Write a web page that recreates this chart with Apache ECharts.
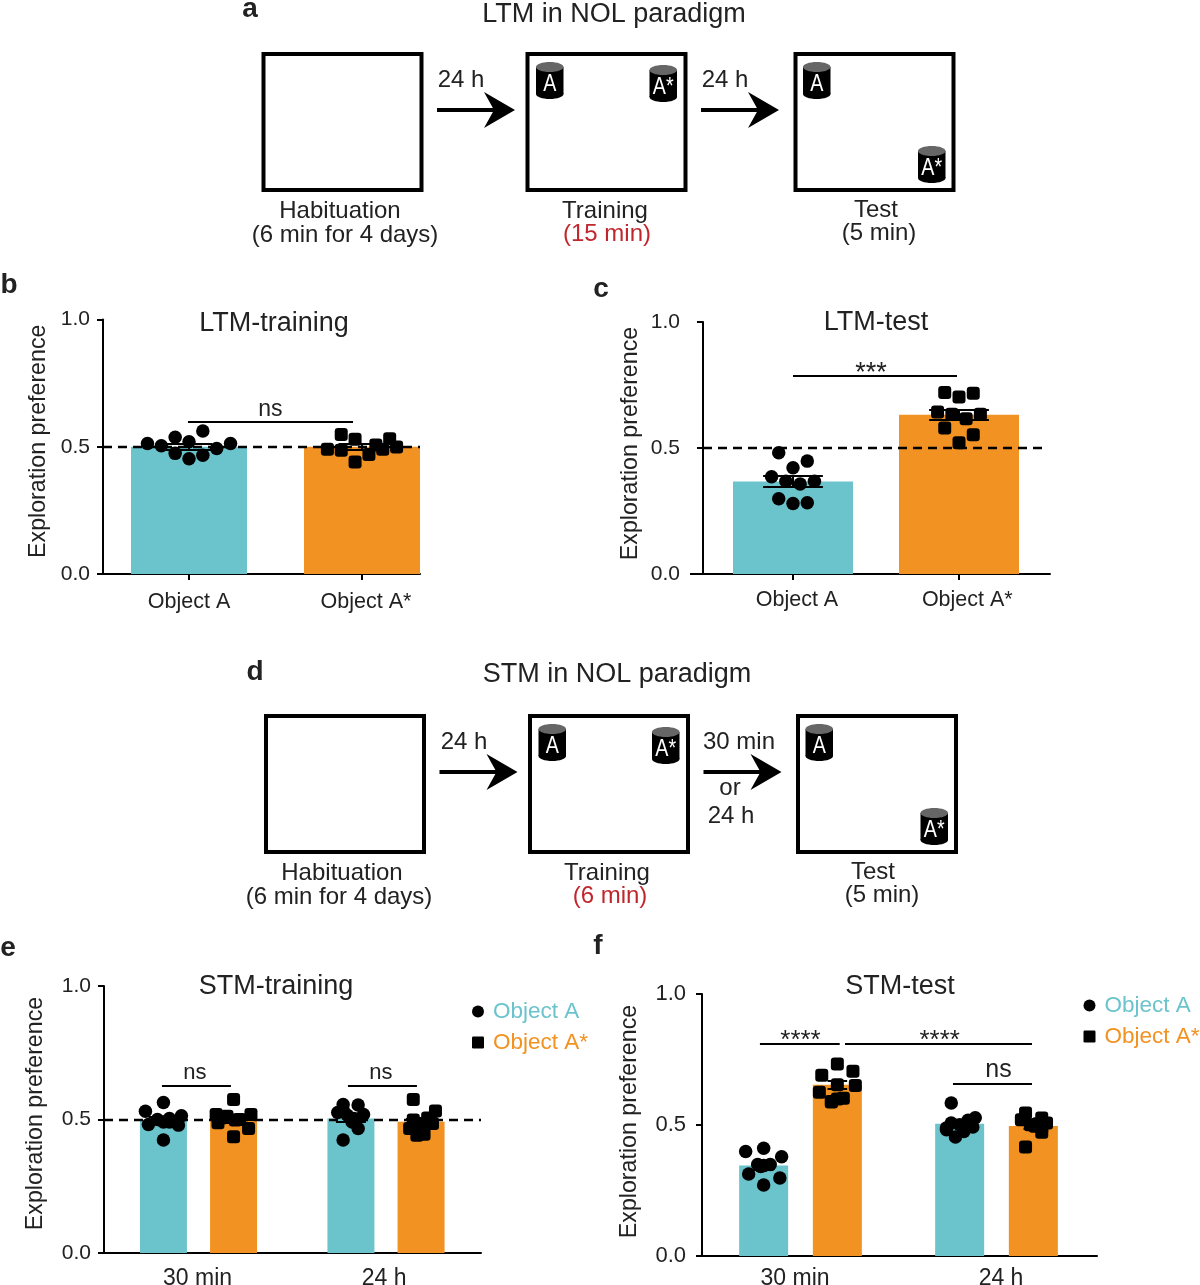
<!DOCTYPE html>
<html>
<head>
<meta charset="utf-8">
<style>html,body{margin:0;padding:0;background:#fff}#c{width:1200px;height:1285px}</style>
<script src="https://cdn.jsdelivr.net/npm/echarts@6/dist/echarts.min.js"></script>
</head>
<body>
<div id="c"></div>
<script>
// ---- data: [swarm column, exploration preference]
var yTicksLabel = 'Exploration preference';
var objectNames = ['Object A', 'Object A*'];
var delayNames = ['30 min', '24 h'];

var ltmTrainingA = [[-3,.513],[-2,.504],[-1,.537],[-1,.474],[0,.520],[0,.453],[1,.562],[1,.467],[2,.493],[3,.513]];
var ltmTrainingB = [[-2.5,.49],[-1.5,.548],[-1.5,.486],[-.5,.529],[-.5,.44],[.5,.47],[1,.507],[1.5,.49],[2,.531],[2.5,.499]];
var ltmTestA = [[-1,.481],[1,.448],[0,.422],[-1.5,.386],[-.5,.368],[.5,.357],[1.5,.368],[-1,.299],[0,.280],[1,.283]];
var ltmTestB = [[-1,.72],[0,.702],[1,.717],[-1.5,.643],[-.5,.634],[.5,.616],[1.5,.634],[-1,.579],[1,.553],[0,.521]];

var stmTraining30A = [[0,.564],[-3,.531],[-1,.5],[-2.5,.481],[0,.491],[1,.491],[3,.514],[2.5,.479],[0,.423],[1,.504]];
var stmTraining30B = [[0,.575],[-2.9,.519],[-2.6,.488],[-1.1,.512],[.3,.498],[1,.5],[2.9,.519],[2.5,.466],[0,.435],[-1.9,.507]];
var stmTraining24A = [[-1.3,.556],[1.2,.554],[-2.2,.526],[2.1,.519],[-.6,.516],[.5,.504],[-1.3,.535],[1.2,.466],[-1.3,.423],[.2,.491]];
var stmTraining24B = [[-1.3,.575],[2.4,.532],[1.1,.506],[-1.3,.498],[1.9,.485],[-1.9,.466],[.1,.485],[-.7,.441],[.5,.445],[.1,.473]];

var stmTest30A = [[-3,.399],[0,.411],[3,.379],[-1,.349],[0,.345],[1.1,.349],[-2.5,.313],[2.7,.298],[0,.271],[-.5,.342]];
var stmTest30B = [[0,.733],[-2.6,.69],[2.6,.705],[0,.654],[3,.651],[-3,.625],[1,.602],[-1,.59],[0,.599],[-1,.588]];
var stmTest24A = [[-1.4,.584],[2.6,.528],[1.4,.518],[-1.4,.508],[0,.501],[-2.2,.482],[2.2,.492],[.7,.475],[-.7,.454],[-2.2,.489]];
var stmTest24B = [[-1.3,.546],[-2,.52],[1.4,.527],[2.2,.508],[-.5,.501],[1.4,.489],[.3,.495],[-1.3,.416],[1.4,.472],[.8,.505]];

var ltmTrainingMeans = [.5, .5],  ltmTrainingSem = [.01, .01];
var ltmTestMeans = [.367, .632],  ltmTestSem = [.022, .021];
var stmTrainingMeans = [.497, .498, .504, .492], stmTrainingSem = [.012, .012, .012, .012];
var stmTestMeans = [.345, .654, .505, .496],     stmTestSem = [.014, .014, .01, .011];

// ---- layout, separate from the values
var TEAL = '#6BC3CC', ORANGE = '#F29222', INK = '#222', RED = '#C0272D';
var FONT = '"Liberation Sans", Arial, sans-serif';

var panels = [
 {left:103,right:420,top:319.5,bottom:574,c0:189,unit:173,groups:1,barW:116,sub:0,step:.08,cap:.135,tick:true,
  means:ltmTrainingMeans,sem:ltmTrainingSem,dots:[ltmTrainingA,ltmTrainingB],
  names:objectNames,labelAt:[0,1.023],labelMargin:17,yMargin:13,yFont:21,nameGap:53,namePad:11,
  dashEnd:420,brackets:[{a:-.006,b:.948,y:.599,t:'ns',x:.47,ty:.645,f:23}]},
 {left:703,right:1050,top:322,bottom:574,c0:793,unit:166,groups:1,barW:120,sub:0,step:.086,cap:.18,tick:true,
  means:ltmTestMeans,sem:ltmTestSem,dots:[ltmTestA,ltmTestB],
  names:objectNames,labelAt:[.024,1.05],labelMargin:15,yMargin:23,yFont:21,nameGap:61,namePad:9,
  dashEnd:1047,brackets:[{a:0,b:.988,y:.786,t:'***',x:.47,ty:.795,f:27}]},
 {left:104,right:481,top:986,bottom:1253,c0:198.5,unit:187.5,groups:2,barW:47,sub:.187,step:.032,cap:.08,tick:false,
  means:stmTrainingMeans,sem:stmTrainingSem,dots:[stmTraining30A,stmTraining30B,stmTraining24A,stmTraining24B],
  names:delayNames,labelAt:[-.005,.99],labelMargin:14,yMargin:13,yFont:21,nameGap:57,namePad:12,
  dashEnd:481,brackets:[{a:-.195,b:.173,y:.625,t:'ns',x:-.019,ty:.674,f:22},{a:.797,b:1.165,y:.625,t:'ns',x:.973,ty:.674,f:22}]},
 {left:702,right:1097,top:994,bottom:1256,c0:800.5,unit:196,groups:2,barW:49,sub:.188,step:.0306,cap:.05,tick:false,
  means:stmTestMeans,sem:stmTestSem,dots:[stmTest30A,stmTest30B,stmTest24A,stmTest24B],
  names:delayNames,labelAt:[-.028,1.023],labelMargin:11,yMargin:16,yFont:22,nameGap:61,namePad:7,
  dashEnd:1100,brackets:[{a:-.207,b:.2,y:.809,t:'****',x:0,ty:.82,f:26},{a:.227,b:1.181,y:.809,t:'****',x:.71,ty:.82,f:26},{a:.778,b:1.181,y:.656,t:'ns',x:1.010,ty:.71,f:25}]}
];

var grids=[],xAxes=[],yAxes=[],series=[];
panels.forEach(function(p,i){
  var xMin=(p.left-p.c0)/p.unit, xMax=(p.right-p.c0)/p.unit;
  var nBars=p.means.length, perGroup=nBars/p.names.length;
  var barX=p.means.map(function(_,k){
    var g=Math.floor(k/perGroup), s=k%perGroup;
    return perGroup===2 ? g+(s===0?-p.sub:p.sub) : g;
  });
  grids.push({left:p.left,top:p.top,width:p.right-p.left,height:p.bottom-p.top,containLabel:false,outerBoundsMode:'none'});
  var labelMap={};
  p.labelAt.forEach(function(v,k){labelMap[v.toFixed(4)]=p.names[k];});
  xAxes.push({type:'value',gridIndex:i,min:xMin,max:xMax,splitLine:{show:false},
    axisLine:{show:true,onZero:false,lineStyle:{color:'#000',width:2}},
    axisTick:{show:p.tick,length:6,customValues:[0,1],lineStyle:{color:'#000',width:2}},
    axisLabel:{show:true,margin:p.labelMargin,customValues:p.labelAt,hideOverlap:false,showMinLabel:true,showMaxLabel:true,
      fontFamily:FONT,fontSize:p.tick?21.5:23,color:INK,formatter:function(v){return labelMap[v.toFixed(4)]||'';}}});
  yAxes.push({type:'value',gridIndex:i,min:0,max:1,interval:.5,splitLine:{show:false},
    name:yTicksLabel,nameLocation:'middle',nameGap:p.nameGap,nameRotate:90,nameMoveOverlap:false,
    nameTextStyle:{fontFamily:FONT,fontSize:23.2,color:INK,padding:[0,0,0,p.namePad]},
    axisLine:{show:true,onZero:false,lineStyle:{color:'#000',width:2}},
    axisTick:{show:true,length:6,lineStyle:{color:'#000',width:2}},
    axisLabel:{margin:p.yMargin,fontFamily:FONT,fontSize:p.yFont,color:INK,formatter:function(v){return v.toFixed(1);}}});
  // bars + dashed chance line
  series.push({type:'bar',xAxisIndex:i,yAxisIndex:i,barWidth:p.barW,z:2,silent:true,
    data:p.means.map(function(m,k){return {value:[barX[k],m],itemStyle:{color:(k%2===0)?TEAL:ORANGE}};}),
    markLine:{silent:true,symbol:'none',z:3,label:{show:false},
      lineStyle:{color:'#000',width:2.4,type:[9,6]},
      data:[[{coord:[xMin,.5]},{coord:[(p.dashEnd-p.c0)/p.unit,.5]}]]}});
  // swarm dots
  p.dots.forEach(function(pts,k){
    series.push({type:'scatter',name:objectNames[k%2],xAxisIndex:i,yAxisIndex:i,z:4,silent:true,
      symbol:k%2===0?'circle':'roundRect',symbolSize:k%2===0?13.5:13,itemStyle:{color:'#000',opacity:1},
      data:pts.map(function(d){return [barX[k]+d[0]*p.step,d[1]];})});
  });
  // mean +/- sem, and significance brackets
  var ml=[];
  p.means.forEach(function(m,k){
    var x=barX[k],hi=m+p.sem[k],lo=m-p.sem[k];
    ml.push([{coord:[x-p.cap,hi]},{coord:[x+p.cap,hi]}]);
    ml.push([{coord:[x-p.cap,lo]},{coord:[x+p.cap,lo]}]);
    ml.push([{coord:[x,lo]},{coord:[x,hi]}]);
  });
  p.brackets.forEach(function(b){ml.push([{coord:[b.a,b.y]},{coord:[b.b,b.y]}]);});
  series.push({type:'scatter',xAxisIndex:i,yAxisIndex:i,z:5,silent:true,symbolSize:0,itemStyle:{opacity:1},
    data:p.brackets.map(function(b){return {value:[b.x,b.ty],
      label:{show:true,position:'inside',formatter:b.t,fontFamily:FONT,fontSize:b.f,color:INK}};}),
    markLine:{silent:true,symbol:'none',z:5,label:{show:false},lineStyle:{color:'#000',width:2,type:'solid'},data:ml}});
});

function txt(t,x,y,size,fill,weight,align){
  return {type:'text',z:10,silent:true,style:{text:t,x:x,y:y,align:align||'center',verticalAlign:'middle',
    fill:fill||INK,font:(weight||'normal')+' '+size+'px '+FONT}};
}
function box(x0,y0,x1,y1){
  return {type:'rect',z:8,silent:true,shape:{x:x0,y:y0,width:x1-x0,height:y1-y0},
    style:{fill:'#fff',stroke:'#000',lineWidth:4}};
}
function arrow(x0,x1,y){
  return [{type:'line',z:8,silent:true,shape:{x1:x0,y1:y,x2:x1-20,y2:y},style:{stroke:'#000',lineWidth:4}},
    {type:'polygon',z:9,silent:true,shape:{points:[[x1,y],[x1-31,y+18],[x1-21,y],[x1-31,y-18]]},style:{fill:'#000'}}];
}
function cyl(x0,y0,label){
  var w=27.5,h=37,ry=5,cx=x0+w/2;
  return [
    {type:'ellipse',z:8,silent:true,shape:{cx:cx,cy:y0+h-ry,rx:w/2,ry:ry},style:{fill:'#000'}},
    {type:'rect',z:8,silent:true,shape:{x:x0,y:y0+ry,width:w,height:h-2*ry},style:{fill:'#000'}},
    {type:'ellipse',z:9,silent:true,shape:{cx:cx,cy:y0+ry,rx:w/2,ry:ry},style:{fill:'#666'}},
    {type:'text',z:10,silent:true,x:cx,y:y0+h/2+4,scaleX:.82,style:{text:label,x:0,y:0,align:'center',verticalAlign:'middle',
      fill:'#fff',font:'normal 24px '+FONT}}
  ];
}
function paradigm(dx,dy){
  var e=[box(263.5+dx,54+dy,421.5+dx,190+dy),box(527.5+dx,54+dy,685.5+dx,190+dy),box(795.5+dx,54+dy,953.5+dx,190+dy)];
  e=e.concat(arrow(437+dx,515+dx,110+dy),arrow(701+dx,779+dx,110+dy));
  e=e.concat(cyl(536+dx,62+dy,'A'),cyl(649.5+dx,65+dy,'A*'),cyl(803+dx,62+dy,'A'),cyl(918+dx,146+dy,'A*'));
  return e;
}
var S=24;
var els=[].concat(paradigm(0,0),paradigm(2.5,662),[
  txt('24 h',461,80,S),txt('24 h',725,80,S),
  txt('Habituation',340,211,S),txt('(6 min for 4 days)',345,235,S),
  txt('Training',605,211,S),txt('(15 min)',607,234,S,RED),
  txt('Test',876,210,S),txt('(5 min)',879,233,S),
  txt('24 h',464,742,S),txt('30 min',739,742,S),txt('or',730,788,S),txt('24 h',731,816,S),
  txt('Habituation',342,873,S),txt('(6 min for 4 days)',339,897,S),
  txt('Training',607,873,S),txt('(6 min)',610,896,S,RED),
  txt('Test',873,872,S),txt('(5 min)',882,895,S),
  txt('a',250,9,28,'#222','bold'),txt('b',9,285,28,'#222','bold'),txt('c',601,289,28,'#222','bold'),
  txt('d',255,672,28,'#222','bold'),txt('e',8,948,28,'#222','bold'),txt('f',598,946,28,'#222','bold'),
  {type:'line',z:6,silent:true,shape:{x1:690,y1:574,x2:703,y2:574},style:{stroke:'#000',lineWidth:2}}
]);

function ttl(t,x,y){return {text:t,left:x,top:y-11,textAlign:'center',padding:0,
  textStyle:{fontFamily:FONT,fontSize:27,fontWeight:'normal',color:INK}};}
var SQUARE='path://M1 0H9Q10 0 10 1V9Q10 10 9 10H1Q0 10 0 9V1Q0 0 1 0Z';
function lgd(x,y){return {orient:'vertical',left:x,top:y,itemWidth:20,itemHeight:12,itemGap:8,padding:0,selectedMode:false,
  symbolKeepAspect:true,textStyle:{fontFamily:FONT,fontSize:22.5},
  data:[{name:'Object A',icon:'circle',itemStyle:{color:'#000'},textStyle:{color:TEAL,fontFamily:FONT,fontSize:22.5}},
        {name:'Object A*',icon:SQUARE,itemStyle:{color:'#000'},textStyle:{color:ORANGE,fontFamily:FONT,fontSize:22.5}}]};}

var chart=echarts.init(document.getElementById('c'),null,{renderer:'canvas'});
chart.setOption({
  animation:false,backgroundColor:'#fff',
  title:[ttl('LTM in NOL paradigm',614,12),ttl('STM in NOL paradigm',617,672),ttl('LTM-training',274,321),
    ttl('LTM-test',876,320),ttl('STM-training',276,984),ttl('STM-test',900,984)],
  legend:[lgd(472,1000),lgd(1083.5,994)],
  tooltip:{show:false},
  grid:grids,xAxis:xAxes,yAxis:yAxes,series:series,
  graphic:{elements:els}
});
</script>
</body>
</html>
